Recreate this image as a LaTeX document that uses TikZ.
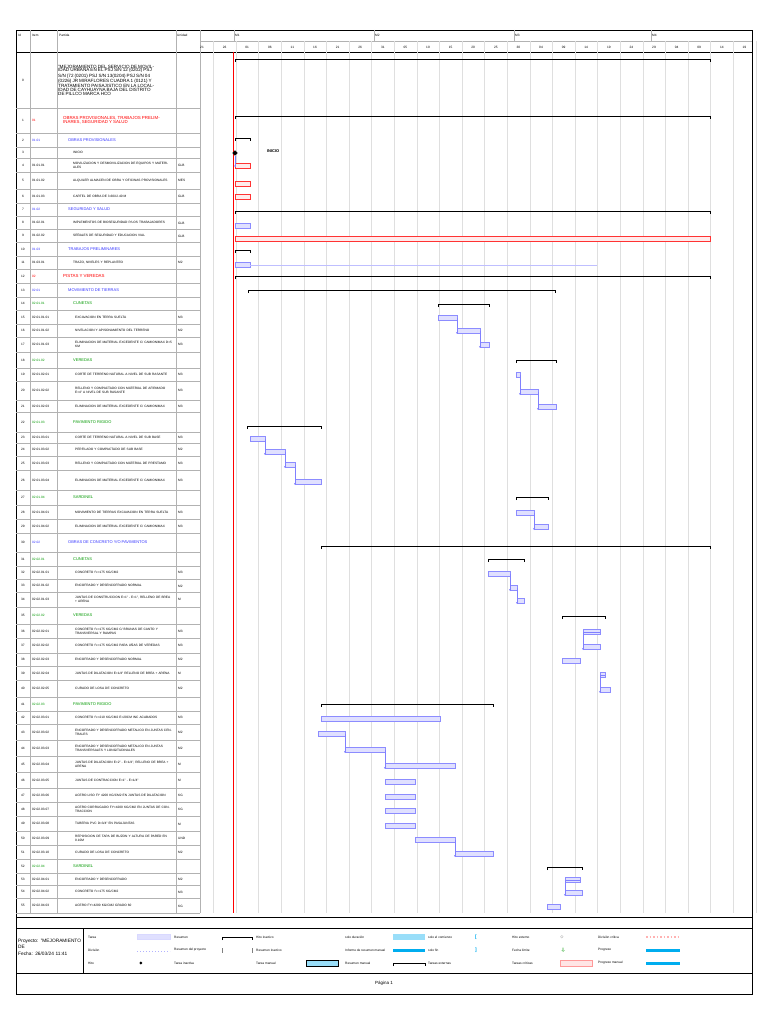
\documentclass[tikz,border=0pt]{standalone}
\usepackage{fontspec}
\setmainfont{Liberation Sans}
\usetikzlibrary{shapes.geometric,arrows.meta}
\begin{document}
\begin{tikzpicture}[x=1pt,y=-1pt,
  tiny/.style={font=\fontsize{3.2}{3.8}\selectfont,inner sep=0pt},
  txt/.style={tiny,anchor=west,align=left,text width=#1},
  task/.style={draw=blue!45,fill=blue!12,line width=0.3pt},
  crit/.style={draw=red!80,fill=red!8,line width=0.4pt},
  summ/.style={line width=0.9pt},
  dep/.style={draw=blue!50,line width=0.3pt,-{Stealth[length=2pt,width=2pt]}},
  grid/.style={draw=gray!25,line width=0.3pt}]
\useasboundingbox (0,0) rectangle (768,1024);
\fill[white] (0,0) rectangle (768,1024);
% frame
\draw[line width=0.8pt] (16,30) rectangle (752,994);
\draw[line width=0.5pt] (16,52) -- (752,52);
\foreach \x in {30,57,176,200} \draw[gray!60] (\x,30) -- (\x,913);
% header texts
\node[tiny,anchor=west] (h1) at (18,35) {Id};
\node[tiny,anchor=west] (h2) at (32,35) {Item};
\node[tiny,anchor=west] (h3) at (59,35) {Partida};
\node[tiny,anchor=west] (h4) at (177,35) {Unidad};
\draw[gray!60] (200,41) -- (752,41);
\foreach \x/\m in {234/M1,374/M2,514/M3,651/M4} {
  \draw[gray!60] (\x,30) -- (\x,41);
  \node[tiny,anchor=west] at (\x+1,35) {\m};}
\foreach \i/\d in {0/21,1/26,2/01,3/06,4/11,5/16,6/21,7/26,8/31,9/05,10/10,11/15,12/20,13/25,14/30,15/04,16/09,17/14,18/19,19/24,20/29,21/04,22/09,23/14,24/19} {
  \pgfmathsetmacro\xx{202+22.6*\i}
  \node[tiny] at (\xx,47) {\d};
  \draw[grid] (\xx+11.3,41) -- (\xx+11.3,913);}
% rows
\newcommand\RW[7]{%
  \draw[gray!60] (16,#3) -- (200,#3);
  \node[tiny] (id#1) at (23,{(#2+#3)/2}) {#1};
  \node[txt=26pt,text=#7] (it#1) at (32,{(#2+#3)/2}) {#4};
  \node[txt=98pt,text=#7] (pa#1) at (#6,{(#2+#3)/2}) {#5};
}
\RW{0}{52}{108}{}{\fontsize{4.6}{6}\selectfont "MEJORAMIENTO DEL SERVICIO DE MOVILIDAD URBANA EN EL PSJ S/N 12 (0202) PSJ S/N (72 (0201) PSJ S/N 13(0204) PSJ S/N 04 (0226) JR MIRAFLORES CUADRA 1 (0121) Y TRATAMIENTO PAISAJISTICO EN LA LOCALIDAD DE CAYHUAYNA BAJA DEL DISTRITO DE PILLCO MARCA HCO}{58}{black}
\RW{1}{108}{133}{01}{\fontsize{4.4}{5.8}\selectfont OBRAS PROVISIONALES, TRABAJOS PRELIMINARES, SEGURIDAD Y SALUD}{63}{red}
\RW{2}{133}{147}{01.01}{\fontsize{4}{5}\selectfont OBRAS PROVISIONALES}{68}{blue!80}
\RW{3}{147}{158}{}{INICIO}{73}{black}
\RW{4}{158}{172}{01.01.01}{MOVILIZACION Y DESMOVILIZACION DE EQUIPOS Y MATERIALES}{73}{black}
\RW{5}{172}{189}{01.01.02}{ALQUILER ALMACEN DE OBRA Y OFICINAS PROVISIONALES}{73}{black}
\RW{6}{189}{203}{01.01.03}{CARTEL DE OBRA DE 3.60X2.40 M}{73}{black}
\RW{7}{203}{216}{01.02}{\fontsize{4}{5}\selectfont SEGURIDAD Y SALUD}{68}{blue!80}
\RW{8}{216}{229}{01.02.01}{IMPLEMENTOS DE BIOSEGURIDAD P/LOS TRABAJADORES}{73}{black}
\RW{9}{229}{242}{01.02.02}{SEÑALES DE SEGURIDAD Y EDUCACION VIAL}{73}{black}
\RW{10}{242}{256}{01.03}{\fontsize{4}{5}\selectfont TRABAJOS PRELIMINARES}{68}{blue!80}
\RW{11}{256}{269}{01.03.01}{TRAZO, NIVELES Y REPLANTEO}{73}{black}
\RW{12}{269}{283}{02}{\fontsize{4.4}{5.8}\selectfont PISTAS Y VEREDAS}{63}{red}
\RW{13}{283}{297}{02.01}{\fontsize{4}{5}\selectfont MOVIMIENTO DE TIERRAS}{68}{blue!80}
\RW{14}{297}{310}{02.01.01}{\fontsize{4}{5}\selectfont CUNETAS}{73}{green!60!black}
\RW{15}{310}{324}{02.01.01.01}{EXCAVACION EN TERRA SUELTA}{75}{black}
\RW{16}{324}{337}{02.01.01.02}{NIVELACION Y APISONAMIENTO DEL TERRENO}{75}{black}
\RW{17}{337}{352}{02.01.01.03}{ELIMINACION DE MATERIAL EXCEDENTE C/ CAMION/MAX D=5 KM}{75}{black}
\RW{18}{352}{368}{02.01.02}{\fontsize{4}{5}\selectfont VEREDAS}{73}{green!60!black}
\RW{19}{368}{381}{02.01.02.01}{CORTE DE TERRENO NATURAL A NIVEL DE SUB RASANTE}{75}{black}
\RW{20}{381}{400}{02.01.02.02}{RELLENO Y COMPACTADO CON MATERIAL DE AFIRMADO E=4" A NIVEL DE SUB RASANTE}{75}{black}
\RW{21}{400}{412}{02.01.02.03}{ELIMINACION DE MATERIAL EXCEDENTE C/ CAMION/MAX}{75}{black}
\RW{22}{412}{432}{02.01.03}{\fontsize{4}{5}\selectfont PAVIMENTO RIGIDO}{73}{green!60!black}
\RW{23}{432}{443}{02.01.03.01}{CORTE DE TERRENO NATURAL A NIVEL DE SUB BASE}{75}{black}
\RW{24}{443}{456}{02.01.03.02}{PERFILADO Y COMPACTADO DE SUB BASE}{75}{black}
\RW{25}{456}{470}{02.01.03.03}{RELLENO Y COMPACTADO CON MATERIAL DE PRESTAMO}{75}{black}
\RW{26}{470}{490}{02.01.03.04}{ELIMINACION DE MATERIAL EXCEDENTE C/ CAMION/MAX}{75}{black}
\RW{27}{490}{505}{02.01.04}{\fontsize{4}{5}\selectfont SARDINEL}{73}{green!60!black}
\RW{28}{505}{519}{02.01.04.01}{MOVIMIENTO DE TIERRAS EXCAVACION EN TERRA SUELTA}{75}{black}
\RW{29}{519}{533}{02.01.04.02}{ELIMINACION DE MATERIAL EXCEDENTE C/ CAMION/MAX}{75}{black}
\RW{30}{533}{552}{02.02}{\fontsize{4}{5}\selectfont OBRAS DE CONCRETO Y/O PAVIMENTOS}{68}{blue!80}
\RW{31}{552}{566}{02.02.01}{\fontsize{4}{5}\selectfont CUNETAS}{73}{green!60!black}
\RW{32}{566}{579}{02.02.01.01}{CONCRETO f'c=175 KG/CM2}{75}{black}
\RW{33}{579}{592}{02.02.01.02}{ENCOFRADO Y DESENCOFRADO NORMAL}{75}{black}
\RW{34}{592}{607}{02.02.01.03}{JUNTAS DE CONSTRUCCION E=1" - E=1", RELLENO DE BREA + ARENA}{75}{black}
\RW{35}{607}{624}{02.02.02}{\fontsize{4}{5}\selectfont VEREDAS}{73}{green!60!black}
\RW{36}{624}{638}{02.02.02.01}{CONCRETO f'c=175 KG/CM2 C/ BRUNAS DE CANTO Y TRANSVERSAL Y RAMPAS}{75}{black}
\RW{37}{638}{653}{02.02.02.02}{CONCRETO f'c=175 KG/CM2 PARA UÑAS DE VEREDAS}{75}{black}
\RW{38}{653}{666}{02.02.02.03}{ENCOFRADO Y DESENCOFRADO NORMAL}{75}{black}
\RW{39}{666}{680}{02.02.02.04}{JUNTAS DE DILATACION E=1/4" RELLENO DE BREA + ARENA}{75}{black}
\RW{40}{680}{697}{02.02.02.05}{CURADO DE LOSA DE CONCRETO}{75}{black}
\RW{41}{697}{711}{02.02.03}{\fontsize{4}{5}\selectfont PAVIMENTO RIGIDO}{73}{green!60!black}
\RW{42}{711}{724}{02.02.03.01}{CONCRETO f'c=210 KG/CM2 E=20CM INC ACABADOS}{75}{black}
\RW{43}{724}{740}{02.02.03.02}{ENCOFRADO Y DESENCOFRADO METALICO EN JUNTAS CENTRALES}{75}{black}
\RW{44}{740}{756}{02.02.03.03}{ENCOFRADO Y DESENCOFRADO METALICO EN JUNTAS TRANSVERSALES Y LONGITUDINALES}{75}{black}
\RW{45}{756}{772}{02.02.03.04}{JUNTAS DE DILATACION E=2" - E=1/4", RELLENO DE BREA + ARENA}{75}{black}
\RW{46}{772}{788}{02.02.03.05}{JUNTAS DE CONTRACCION E=1" - E=1/4"}{75}{black}
\RW{47}{788}{802}{02.02.03.06}{ACERO LISO FY 4200 KG/CM2 EN JUNTAS DE DILATACION}{75}{black}
\RW{48}{802}{816}{02.02.03.07}{ACERO CORRUGADO FY=4200 KG/CM2 EN JUNTAS DE CONTRACCION}{75}{black}
\RW{49}{816}{831}{02.02.03.08}{TUBERIA PVC D=3/4" EN PASAJUNTAS}{75}{black}
\RW{50}{831}{845}{02.02.03.09}{REPOSICION DE TAPA DE BUZON Y ALTURA DE PARED EN 0.10M}{75}{black}
\RW{51}{845}{859}{02.02.03.10}{CURADO DE LOSA DE CONCRETO}{75}{black}
\RW{52}{859}{873}{02.02.04}{\fontsize{4}{5}\selectfont SARDINEL}{73}{green!60!black}
\RW{53}{873}{885}{02.02.04.01}{ENCOFRADO Y DESENCOFRADO}{75}{black}
\RW{54}{885}{898}{02.02.04.02}{CONCRETO f'c=175 KG/CM2}{75}{black}
\RW{55}{898}{913}{02.02.04.03}{ACERO FY=4200 KG/CM2 GRADO 60}{75}{black}
% units
\foreach \y/\u in {165/GLB,180/MES,196/GLB,223/GLB,236/GLB,262/M2,317/M3,330/M2,344/M3,374/M3,390/M3,406/M3,437/M3,449/M2,463/M3,480/M3,512/M3,526/M3,572/M3,586/M2,599/M,631/M3,645/M3,659/M2,673/M,688/M2,717/M3,732/M2,748/M2,764/M,780/M,795/KG,809/KG,824/M,838/UND,852/M2,879/M2,892/M3,906/KG}
  \node[tiny,anchor=west] at (178,\y) {\u};
% today line
\draw[red,line width=0.7pt] (233,52) -- (233,913);
% summary bars
\newcommand\SB[3]{\draw[summ] (#1,#3+3) -- (#1,#3) -- (#2,#3) -- (#2,#3+3);}
\SB{235}{710}{59}\SB{235}{710}{116}\SB{235}{250}{138}\SB{235}{710}{211}
\SB{235}{250}{250}\SB{235}{710}{276}\SB{248}{555}{290}\SB{438}{489}{304}
\SB{516}{556}{360}\SB{247}{321}{426}\SB{516}{548}{497}\SB{321}{710}{546}
\SB{488}{524}{559}\SB{562}{605}{616}\SB{321}{493}{704}\SB{547}{582}{867}
% milestone
\node[fill=black,diamond,inner sep=1.2pt,draw] (ms) at (235,153) {};
\node[tiny,font=\fontsize{4}{5}\bfseries] (inicio) at (273,151) {INICIO};
% tasks
\newcommand\TB[5]{\draw[#4] (#1,#3-2.5) rectangle (#2,#3+2.5); \coordinate (s#5) at (#1,#3); \coordinate (e#5) at (#2,#3);}
\TB{235}{250}{166}{crit}{4}\TB{235}{250}{184}{crit}{5}\TB{235}{250}{197}{crit}{6}
\TB{235}{250}{226}{task}{8}\TB{235}{710}{239}{crit}{9}\TB{235}{250}{265}{task}{11}
\draw[blue!25,line width=0.8pt] (250,265) -- (597,265);
\TB{438}{457}{318}{task}{15}\TB{457}{480}{331}{task}{16}\TB{480}{489}{345}{task}{17}
\TB{516}{520}{375}{task}{19}\TB{520}{538}{392}{task}{20}\TB{538}{556}{407}{task}{21}
\TB{250}{265}{439}{task}{23}\TB{265}{285}{452}{task}{24}\TB{285}{295}{465}{task}{25}\TB{295}{321}{482}{task}{26}
\TB{516}{534}{513}{task}{28}\TB{534}{548}{527}{task}{29}
\TB{488}{510}{574}{task}{32}\TB{510}{517}{588}{task}{33}\TB{517}{524}{601}{task}{34}
\TB{583}{600}{632}{task}{36}\TB{583}{600}{647}{task}{37}\TB{562}{580}{661}{task}{38}
\TB{600}{605}{675}{task}{39}\TB{600}{610}{690}{task}{40}
\TB{321}{440}{719}{task}{42}\TB{318}{345}{734}{task}{43}\TB{345}{385}{750}{task}{44}
\TB{385}{455}{766}{task}{45}\TB{385}{415}{782}{task}{46}\TB{385}{415}{797}{task}{47}
\TB{385}{415}{811}{task}{48}\TB{385}{415}{826}{task}{49}\TB{415}{455}{840}{task}{50}
\TB{455}{493}{854}{task}{51}\TB{565}{580}{880}{task}{53}\TB{565}{582}{893}{task}{54}\TB{547}{560}{907}{task}{55}
% dependencies
\foreach \a/\b in {15/16,16/17,19/20,20/21,23/24,24/25,25/26,28/29,32/33,33/34,36/37,39/40,43/44,44/45,50/51,53/54}
  \draw[dep] (e\a) -| ([yshift=-3pt]s\b);
\draw[dep] (ms) |- ([xshift=-1pt]s4);
% table bottom and legend
\draw[line width=0.5pt] (16,917) -- (752,917);
\draw[line width=0.8pt] (16,928) -- (752,928);
\draw[line width=0.8pt] (16,973) -- (752,973);
\draw[line width=0.5pt] (83,928) -- (83,973);
\node[txt=64pt,font=\fontsize{4.8}{6.4}\selectfont] (proj) at (18,947) {Proyecto: "MEJORAMIENTO DE\\Fecha: 26/03/24 11:41};
\node[tiny,font=\fontsize{4.5}{5}\selectfont] (pag) at (384,983) {Página 1};
\begin{scope}[every node/.style={tiny,anchor=west}]
\node at (88,937) {Tarea}; \draw[task,draw=blue!15] (137,934) rectangle (170,939);
\node at (88,950) {División}; \draw[blue!30,dotted,line width=1pt] (137,951) -- (170,951);
\node at (88,963) {Hito}; \node[fill=black,diamond,inner sep=0.8pt] at (139,963) {};
\node at (174,937) {Resumen}; \draw[summ] (222,940)--(222,937)--(252,937)--(252,940);
\node at (174,950) {Resumen del proyecto}; \draw[gray,line width=1pt] (222,948)--(222,953) (252,948)--(252,953);
\node at (174,963) {Tarea inactiva};
\node at (256,937) {Hito inactivo};
\node at (256,950) {Resumen inactivo};
\node at (256,963) {Tarea manual}; \draw[fill=cyan!40,draw=black] (306,960) rectangle (338,966);
\node at (345,937) {solo duración}; \fill[cyan!40] (393,934) rectangle (425,940);
\node at (345,950) {Informe de resumen manual}; \fill[cyan] (393,949) rectangle (425,952);
\node at (345,963) {Resumen manual}; \draw[summ] (393,966)--(393,963)--(425,963)--(425,966);
\node at (428,937) {solo el comienzo}; \node[text=cyan,font=\fontsize{5}{5}\bfseries] at (475,937) {[};
\node at (428,950) {solo fin}; \node[text=cyan,font=\fontsize{5}{5}\bfseries] at (475,950) {]};
\node at (428,963) {Tareas externas};
\node at (512,937) {Hito externo}; \node[gray] at (560,937) {$\diamond$};
\node at (512,950) {Fecha límite}; \node[text=green!60!black] at (561,950) {$\Downarrow$};
\node at (512,963) {Tareas críticas}; \draw[crit,draw=red!40,fill=red!10] (560,960) rectangle (592,966);
\node at (598,937) {División crítica}; \draw[red!30,dotted,line width=1.5pt] (646,937) -- (680,937);
\node at (598,950) {Progreso}; \fill[cyan] (646,949) rectangle (680,952);
\node at (598,963) {Progreso manual}; \fill[cyan] (646,962) rectangle (680,965);
\end{scope}
\end{tikzpicture}
\end{document}
